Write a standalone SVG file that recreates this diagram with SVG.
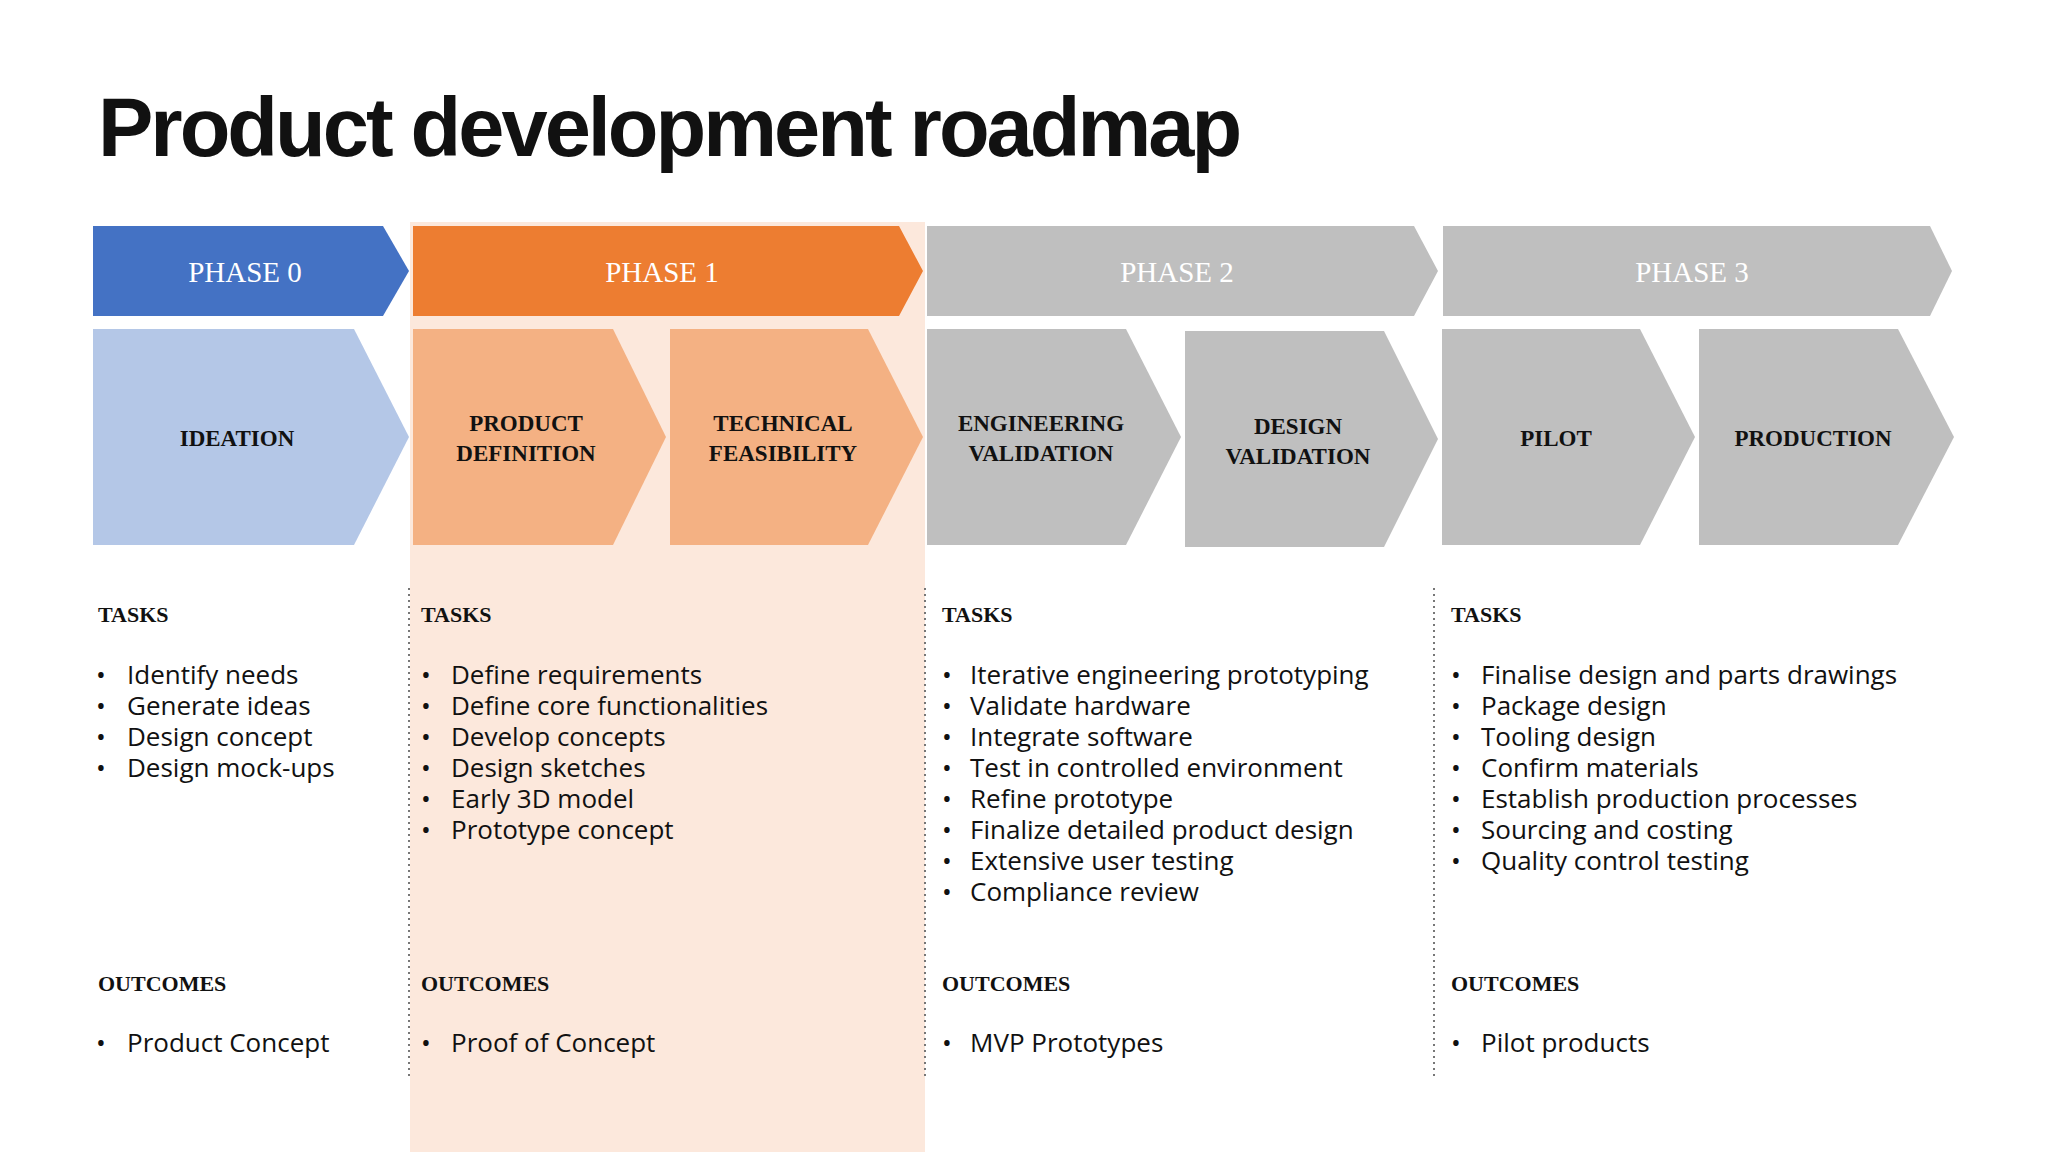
<svg xmlns="http://www.w3.org/2000/svg" width="2048" height="1152" viewBox="0 0 2048 1152">
<style>
.ph{font-family:"Liberation Serif",serif;font-size:29px;fill:#fff;text-anchor:middle}
.ch{font-family:"Liberation Serif",serif;font-size:23px;font-weight:bold;fill:#111;text-anchor:middle}
.hd{font-family:"Liberation Serif",serif;font-size:22px;font-weight:bold;fill:#111}
.li{font-family:"Open Sans","Noto Sans",sans-serif;font-size:26px;fill:#111}
.dl{stroke:#777;stroke-width:2;stroke-dasharray:2 4}
</style>
<rect width="2048" height="1152" fill="#fff"/>
<rect x="410" y="222" width="515" height="930" fill="#fce8dc"/>
<text x="98" y="156" font-family="Liberation Sans,Arial,sans-serif" font-size="83" font-weight="bold" letter-spacing="-3" fill="#111">Product development roadmap</text>
<g id="phase0"><polygon points="93,226 383,226 409,271 383,316 93,316" fill="#4472c4"/><text class="ph" x="245" y="282">PHASE 0</text></g>
<g id="phase1"><polygon points="413,226 899,226 923,271 899,316 413,316" fill="#ed7d31"/><text class="ph" x="662" y="282">PHASE 1</text></g>
<g id="phase2"><polygon points="927,226 1414,226 1438,271 1414,316 927,316" fill="#bfbfbf"/><text class="ph" x="1177" y="282">PHASE 2</text></g>
<g id="phase3"><polygon points="1443,226 1930,226 1952,271 1930,316 1443,316" fill="#bfbfbf"/><text class="ph" x="1692" y="282">PHASE 3</text></g>
<g id="ideation"><polygon points="93,329 354,329 409,437 354,545 93,545" fill="#b4c7e7"/><text class="ch" x="237" y="446">IDEATION</text></g>
<g id="productdef"><polygon points="413,329 613,329 666,437 613,545 413,545" fill="#f4b183"/><text class="ch" x="526" y="431">PRODUCT</text><text class="ch" x="526" y="461">DEFINITION</text></g>
<g id="technical"><polygon points="670,329 868,329 923,437 868,545 670,545" fill="#f4b183"/><text class="ch" x="783" y="431">TECHNICAL</text><text class="ch" x="783" y="461">FEASIBILITY</text></g>
<g id="engval"><polygon points="927,329 1126,329 1181,437 1126,545 927,545" fill="#bfbfbf"/><text class="ch" x="1041" y="431">ENGINEERING</text><text class="ch" x="1041" y="461">VALIDATION</text></g>
<g id="designval"><polygon points="1185,331 1384,331 1438,439 1384,547 1185,547" fill="#bfbfbf"/><text class="ch" x="1298" y="434">DESIGN</text><text class="ch" x="1298" y="464">VALIDATION</text></g>
<g id="pilot"><polygon points="1442,329 1640,329 1695,437 1640,545 1442,545" fill="#bfbfbf"/><text class="ch" x="1556" y="446">PILOT</text></g>
<g id="production"><polygon points="1699,329 1898,329 1954,437 1898,545 1699,545" fill="#bfbfbf"/><text class="ch" x="1813" y="446">PRODUCTION</text></g>
<g id="connectors">
<line class="dl" x1="409" y1="588" x2="409" y2="1077"/>
<line class="dl" x1="925" y1="588" x2="925" y2="1077"/>
<line class="dl" x1="1434" y1="588" x2="1434" y2="1077"/>
</g>
<g id="col0">
<text class="hd" x="98" y="622">TASKS</text>
<text class="li" x="96" y="684">•</text><text class="li" x="127" y="684">Identify needs</text>
<text class="li" x="96" y="715">•</text><text class="li" x="127" y="715">Generate ideas</text>
<text class="li" x="96" y="746">•</text><text class="li" x="127" y="746">Design concept</text>
<text class="li" x="96" y="777">•</text><text class="li" x="127" y="777">Design mock-ups</text>
<text class="hd" x="98" y="991">OUTCOMES</text>
<text class="li" x="96" y="1052">•</text><text class="li" x="127" y="1052">Product Concept</text>
</g>
<g id="col1">
<text class="hd" x="421" y="622">TASKS</text>
<text class="li" x="421" y="684">•</text><text class="li" x="451" y="684">Define requirements</text>
<text class="li" x="421" y="715">•</text><text class="li" x="451" y="715">Define core functionalities</text>
<text class="li" x="421" y="746">•</text><text class="li" x="451" y="746">Develop concepts</text>
<text class="li" x="421" y="777">•</text><text class="li" x="451" y="777">Design sketches</text>
<text class="li" x="421" y="808">•</text><text class="li" x="451" y="808">Early 3D model</text>
<text class="li" x="421" y="839">•</text><text class="li" x="451" y="839">Prototype concept</text>
<text class="hd" x="421" y="991">OUTCOMES</text>
<text class="li" x="421" y="1052">•</text><text class="li" x="451" y="1052">Proof of Concept</text>
</g>
<g id="col2">
<text class="hd" x="942" y="622">TASKS</text>
<text class="li" x="942" y="684">•</text><text class="li" x="970" y="684">Iterative engineering prototyping</text>
<text class="li" x="942" y="715">•</text><text class="li" x="970" y="715">Validate hardware</text>
<text class="li" x="942" y="746">•</text><text class="li" x="970" y="746">Integrate software</text>
<text class="li" x="942" y="777">•</text><text class="li" x="970" y="777">Test in controlled environment</text>
<text class="li" x="942" y="808">•</text><text class="li" x="970" y="808">Refine prototype</text>
<text class="li" x="942" y="839">•</text><text class="li" x="970" y="839">Finalize detailed product design</text>
<text class="li" x="942" y="870">•</text><text class="li" x="970" y="870">Extensive user testing</text>
<text class="li" x="942" y="901">•</text><text class="li" x="970" y="901">Compliance review</text>
<text class="hd" x="942" y="991">OUTCOMES</text>
<text class="li" x="942" y="1052">•</text><text class="li" x="970" y="1052">MVP Prototypes</text>
</g>
<g id="col3">
<text class="hd" x="1451" y="622">TASKS</text>
<text class="li" x="1451" y="684">•</text><text class="li" x="1481" y="684">Finalise design and parts drawings</text>
<text class="li" x="1451" y="715">•</text><text class="li" x="1481" y="715">Package design</text>
<text class="li" x="1451" y="746">•</text><text class="li" x="1481" y="746">Tooling design</text>
<text class="li" x="1451" y="777">•</text><text class="li" x="1481" y="777">Confirm materials</text>
<text class="li" x="1451" y="808">•</text><text class="li" x="1481" y="808">Establish production processes</text>
<text class="li" x="1451" y="839">•</text><text class="li" x="1481" y="839">Sourcing and costing</text>
<text class="li" x="1451" y="870">•</text><text class="li" x="1481" y="870">Quality control testing</text>
<text class="hd" x="1451" y="991">OUTCOMES</text>
<text class="li" x="1451" y="1052">•</text><text class="li" x="1481" y="1052">Pilot products</text>
</g>
</svg>
